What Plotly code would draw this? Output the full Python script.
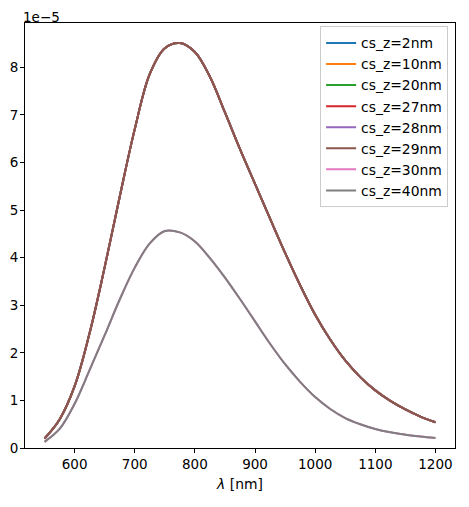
import plotly.graph_objects as go

# wavelength grid [nm] and the two curves (units of 1e-5)
wavelength = [550, 575, 600, 625, 650, 675, 700, 725, 750, 775, 800, 825, 850,
              875, 900, 925, 950, 975, 1000, 1025, 1050, 1075, 1100, 1125, 1150,
              1175, 1200]
upper_curve = [0.20, 0.60, 1.30, 2.42, 3.80, 5.28, 6.70, 7.86, 8.40, 8.51, 8.32, 7.80, 7.05,
               6.28, 5.55, 4.82, 4.10, 3.42, 2.80, 2.28, 1.84, 1.49, 1.21, 0.99, 0.81,
               0.66, 0.54]
lower_curve = [0.13, 0.40, 0.93, 1.64, 2.37, 3.12, 3.79, 4.30, 4.56, 4.53, 4.34, 3.99, 3.58,
               3.13, 2.66, 2.19, 1.76, 1.39, 1.07, 0.82, 0.63, 0.50, 0.40, 0.33, 0.28,
               0.24, 0.21]

labels = ['cs_z=2nm', 'cs_z=10nm', 'cs_z=20nm', 'cs_z=27nm',
          'cs_z=28nm', 'cs_z=29nm', 'cs_z=30nm', 'cs_z=40nm']
# which curve each cs_z follows (0 = upper, 1 = lower)
curve_index = [0, 0, 0, 0, 0, 0, 1, 1]
colors = ['#1f77b4', '#ff7f0e', '#2ca02c', '#d62728',
          '#9467bd', '#8c564b', '#e377c2', '#7f7f7f']
y_ticks = [0, 1, 2, 3, 4, 5, 6, 7, 8]
x_ticks = [600, 700, 800, 900, 1000, 1100, 1200]

scale = 1e-5
curves = [upper_curve, lower_curve]

fig = go.Figure()
for label, idx, color in zip(labels, curve_index, colors):
    fig.add_trace(go.Scatter(
        x=wavelength,
        y=[v * scale for v in curves[idx]],
        mode='lines',
        line=dict(color=color, width=2, shape='spline', smoothing=1.0),
        name=label
    ))

axis_style = dict(showline=True, linecolor='black', linewidth=1, mirror=True,
                  showgrid=False, zeroline=False, ticks='outside', ticklen=4,
                  tickcolor='black', tickwidth=1, automargin=False,
                  tickfont=dict(size=13.5))

fig.update_xaxes(range=[517.5, 1232.5], tickvals=x_ticks,
                 title=dict(text='<i>λ</i> [nm]', standoff=8, font=dict(size=13.9)),
                 **axis_style)
fig.update_yaxes(range=[0, 8.93 * scale], tickvals=[t * scale for t in y_ticks],
                 ticktext=[str(t) for t in y_ticks], ticklabelstandoff=-1, **axis_style)

# offset text of the y axis, kept inside the top margin
fig.add_annotation(xref='paper', yref='paper', x=0, y=1, xanchor='left', yanchor='bottom',
                   text='1e\u22125', showarrow=False, font=dict(size=13.5), yshift=-3,
                   xshift=-3, borderpad=0)

# page body adds an 8px offset, so the figure is 8px smaller than the window
fig.update_layout(
    width=461, height=499,
    margin=dict(l=17, r=14, t=15, b=59),
    plot_bgcolor='white', paper_bgcolor='white',
    font=dict(family='DejaVu Sans', size=13.5, color='black'),
    legend=dict(x=0.984, y=0.992, xanchor='right', yanchor='top',
                bgcolor='white', bordercolor='#cccccc', borderwidth=1,
                font=dict(size=13.9), tracegroupgap=0)
)

fig.write_html('out.html')
